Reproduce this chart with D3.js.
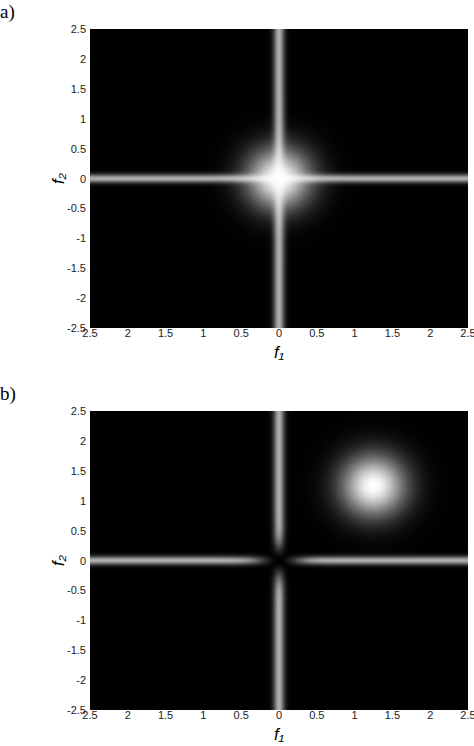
<!DOCTYPE html><html><head><meta charset="utf-8">
<script src="https://cdn.jsdelivr.net/npm/d3@7"></script>
<style>body{margin:0;background:#fff}</style></head><body>
<div id="c" style="position:relative;width:474px;height:746px"></div>
<script>
const panels = ["a)", "b)"];
const tickValues = [-2.5,-2,-1.5,-1,-0.5,0,0.5,1,1.5,2,2.5];
const xTickLabels = ["2.5","2","1.5","1","0.5","0","0.5","1","1.5","2","2.5"];
const yTickLabels = ["-2.5","-2","-1.5","-1","-0.5","0","0.5","1","1.5","2","2.5"];
// blob: [cx, cy, sx, sy, peak]
const blobs = [[0,0,0.3,0.36,1.0],[1.25,1.25,0.3,0.36,1.0]];
// line: [brightness, halfwidth, centerGapWidth]
const lineParams = [[0.68,0.05,0],[0.68,0.05,0.22]];
const tops = [29, 411];
const L=90,R=468,H=299;
const root=d3.select("#c");
const svg=root.append("svg").attr("width",474).attr("height",746).style("position","absolute");
panels.forEach((p,i)=>{
  const top=tops[i];
  const x=d3.scaleLinear().domain([-2.5,2.5]).range([L,R]);
  const y=d3.scaleLinear().domain([-2.5,2.5]).range([top+H,top]);
  const cv=root.append("canvas").attr("width",R-L).attr("height",H)
    .style("position","absolute").style("left",L+"px").style("top",top+"px");
  const ctx=cv.node().getContext("2d");
  const img=ctx.createImageData(R-L,H);
  const [cx,cy,sx,sy,pk]=blobs[i];const [lb,hw,gap]=lineParams[i];
  for(let py=0;py<H;py++)for(let px=0;px<R-L;px++){
    const u=x.invert(L+px+0.5),v=y.invert(top+py+0.5);
    const b=pk*Math.exp(-((u-cx)**2/(2*sx*sx)+(v-cy)**2/(2*sy*sy)));
    const lh=lb*Math.exp(-(v*v)/(2*hw*hw))*(gap>0?(1-Math.exp(-(u*u)/(2*gap*gap))):1);
    const lv=lb*Math.exp(-(u*u)/(2*hw*hw))*(gap>0?(1-Math.exp(-(v*v)/(2*gap*gap))):1);
    const l=Math.max(lh,lv);
    const val=Math.min(1,1-(1-b)*(1-l));
    const c=Math.round(255*val);
    const k=(py*(R-L)+px)*4;img.data[k]=img.data[k+1]=img.data[k+2]=c;img.data[k+3]=255;
  }
  ctx.putImageData(img,0,0);
  const gx=svg.append("g").attr("transform",`translate(0,${top+H+9})`);
  gx.selectAll("text").data(tickValues).join("text").attr("x",d=>x(d)).attr("text-anchor","middle")
    .attr("font-family","Liberation Sans").attr("font-size",11).attr("fill","#222")
    .text((d,j)=>xTickLabels[j]);
  const gy=svg.append("g");
  gy.selectAll("text").data(tickValues).join("text").attr("x",L-4).attr("y",d=>y(d)+4)
    .attr("text-anchor","end").attr("font-family","Liberation Sans").attr("font-size",11).attr("fill","#222")
    .text((d,j)=>yTickLabels[j]);
  svg.append("text").attr("x",0).attr("y",top-11).attr("font-family","Liberation Serif").attr("font-size",19).text(p);
  svg.append("text").attr("x",x(0)).attr("y",top+H+30).attr("text-anchor","middle")
    .attr("font-family","Liberation Sans").attr("font-style","italic").attr("font-size",17).text("f₁");
  svg.append("text").attr("transform",`translate(64,${y(0)}) rotate(-90)`).attr("text-anchor","middle")
    .attr("font-family","Liberation Sans").attr("font-style","italic").attr("font-size",17).text("f₂");
});
</script></body></html>
